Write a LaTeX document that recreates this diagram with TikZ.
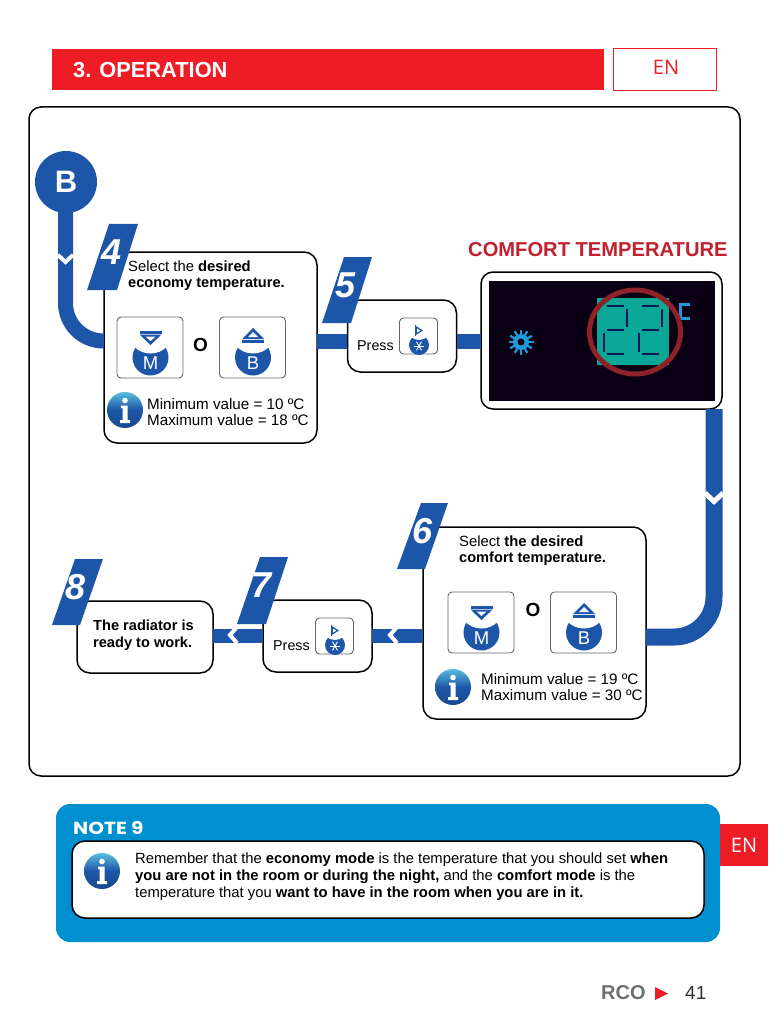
\documentclass[tikz,border=0pt]{standalone}
\usepackage{fontspec}
\setmainfont{Liberation Sans}
\newfontfamily\enfont{Open Sans}
\newfontfamily\notefont[FakeStretch=1.15]{Poppins}
\definecolor{flowblue}{HTML}{1D56A8}
\definecolor{hdrred}{HTML}{EE1C25}
\definecolor{noteblue}{HTML}{0090D0}
\definecolor{comfred}{HTML}{C1202E}
\definecolor{ringred}{HTML}{8E2229}
\definecolor{lcdteal}{HTML}{0AA696}
\definecolor{lcdcyan}{HTML}{1E9AD6}
\definecolor{lcdblack}{HTML}{0A0014}
\definecolor{seg}{HTML}{14145A}
\definecolor{rcogray}{HTML}{6D6E71}
\tikzset{
  x=1pt,y=-1pt,
  panel/.style={draw=black,line width=1.5pt,fill=white,rounded corners=13pt,inner sep=0pt,outer sep=0pt},
  btn/.style={draw=black!60,line width=0.9pt,fill=white,rounded corners=4pt,inner sep=0pt,outer sep=0pt},
  flow/.style={draw=flowblue,line width=15pt},
  chev/.style={draw=white,line width=4pt,miter limit=10},
  txt/.style={anchor=base west,inner sep=0pt,font=\fontsize{14.8}{17}\selectfont},
  valtxt/.style={anchor=base west,inner sep=0pt,font=\fontsize{15.2}{17}\selectfont},
  boldtxt/.style={anchor=base west,inner sep=0pt,font=\fontsize{14.6}{17}\selectfont\bfseries},
  numtag/.style={fill=flowblue},
  numtxt/.style={text=white,inner sep=0pt,font=\fontsize{36}{36}\selectfont\bfseries\itshape},
  key/.style={text=white,inner sep=0pt,font=\fontsize{18.5}{18.5}\selectfont},
  orfont/.style={inner sep=0pt,font=\fontsize{19}{19}\selectfont\bfseries},
  seg2/.style={draw=seg,line width=2.2pt},
}
% #1 name, #2 x, #3 y
\newcommand\downkey[3]{\begin{scope}[shift={(#2,#3)}]
  \node[btn,minimum width=66pt,minimum height=61pt] (#1) at (0,0) {};
  \fill[flowblue] (0.5,10) circle (18);
  \begin{scope}\clip (0.5,10) circle (18.5); \fill[white] (0.5,-17) circle (23); \end{scope}
  \fill[flowblue] (-10.5,-16.5) rectangle (11.5,-14);
  \fill[flowblue] (-10.5,-13) -- (11.5,-13) -- (0.5,-2.5) -- cycle;
  \fill[white] (-4.5,-11) -- (5.5,-11) -- (0.5,-6.5) -- cycle;
  \node[key] (#1t) at (0.5,16) {M};
\end{scope}}
\newcommand\upkey[3]{\begin{scope}[shift={(#2,#3)}]
  \node[btn,minimum width=66pt,minimum height=61pt] (#1) at (0,0) {};
  \fill[flowblue] (0.5,10) circle (18);
  \begin{scope}\clip (0.5,10) circle (18.5); \fill[white] (0.5,-17) circle (23); \end{scope}
  \fill[flowblue] (-10.5,-7.5) rectangle (11.5,-5);
  \fill[flowblue] (-10.5,-8.5) -- (11.5,-8.5) -- (0.5,-19.5) -- cycle;
  \fill[white] (-4.5,-10.5) -- (5.5,-10.5) -- (0.5,-15.5) -- cycle;
  \node[key] (#1t) at (0.5,16) {B};
\end{scope}}
\newcommand\snowkey[3]{\begin{scope}[shift={(#2,#3)}]
  \node[btn,minimum width=38pt,minimum height=36pt] (#1) at (0,0) {};
  \fill[flowblue] (0.5,9) circle (10);
  \begin{scope}\clip (0.5,9) circle (10.5); \fill[white] (0.5,-8) circle (12); \end{scope}
  \fill[flowblue] (-4,-11) rectangle (-2.6,0);
  \fill[flowblue] (-2.6,-10) -- (4.5,-5.5) -- (-2.6,-1) -- cycle;
  \fill[white] (-1.4,-7.5) -- (1.8,-5.5) -- (-1.4,-3.5) -- cycle;
  \foreach \a in {0,60,120} \draw[white,line width=0.9pt] (0.5,10) ++(\a:5) -- ++(\a+180:10);
\end{scope}}
\newcommand\infoicon[2]{\begin{scope}[shift={(#1,#2)}]
  \shade[top color=flowblue!55!cyan!70!white,bottom color=flowblue!85!black,middle color=flowblue] (0,0) circle (18);
  \fill[white] (0,-9.5) circle (2.8);
  \fill[white] (-4,-4.5) -- (2.5,-4.5) -- (2.5,10) -- (5,10) -- (5,13) -- (-5,13) -- (-5,10) -- (-2.5,10) -- (-2.5,-2) -- (-4,-2) -- cycle;
\end{scope}}
\begin{document}
\begin{tikzpicture}
\useasboundingbox (0,0) rectangle (768,1024);
\fill[white] (0,0) rectangle (768,1024);

% header
\node[fill=hdrred,minimum width=552pt,minimum height=41pt,inner sep=0pt] (hdr) at (328,69.5) {};
\node[anchor=base west,inner sep=0pt,text=white,font=\fontsize{21.8}{22}\selectfont\bfseries] (hdrt) at (73,77.5) {3. OPERATION};
\node[draw=hdrred,line width=1pt,fill=white,minimum width=103pt,minimum height=42pt,inner sep=0pt] (enbox) at (664.5,70) {};
\node[text=hdrred,inner sep=0pt,font=\enfont\fontsize{20}{20}\selectfont] (ent) at (666,67) {EN};

% frame
\node[draw=black,line width=1.5pt,fill=white,rounded corners=12pt,minimum width=711pt,minimum height=669pt,inner sep=0pt] (frame) at (384.5,441.5) {};

% nodes
\node[circle,fill=flowblue,minimum size=62pt,inner sep=0pt,text=white,font=\fontsize{31}{31}\selectfont\bfseries] (B) at (66,182) {B};
\node[panel,minimum width=213pt,minimum height=191pt] (b4) at (210.5,347.5) {};
\node[panel,minimum width=109pt,minimum height=72pt] (b5) at (402,336) {};
\node[panel,minimum width=241pt,minimum height=137pt,rounded corners=12pt] (disp) at (601.5,340.5) {};
\node[panel,minimum width=223pt,minimum height=192pt] (b6) at (534.5,623) {};
\node[panel,minimum width=109pt,minimum height=72pt] (b7) at (317.5,636) {};
\node[panel,minimum width=136pt,minimum height=72pt] (b8) at (145,637) {};

% connectors
\coordinate (in4) at (104,341);
\coordinate (out5) at (347,341);
\coordinate (in6) at (646,637);
\coordinate (corner6) at (714,637);
\coordinate (dispout) at (714,409);
\draw[flow,rounded corners=38pt] (B.south) ++(-0.5,-3) |- (in4);
\draw[flow] (b4.east |- in4) -- (out5);
\draw[flow] (b5.east |- in4) -- (disp.west |- in4);
\draw[flow,line width=17pt,rounded corners=40pt] (dispout) -- (corner6) -- (in6);
\draw[flow,line width=14pt] (b6.west |- b7) -- (b7.east);
\draw[flow,line width=14pt] (b7.west) -- (b8.east |- b7);
\draw[chev] (58,255) -- (65.5,262) -- (73,255);
\draw[chev,line width=5pt] (705,493) -- (714,501.5) -- (723,493);
\draw[chev] (397,627) -- (390,635) -- (397,643);
\draw[chev] (237,627) -- (230,635) -- (237,643);

% number tags
\fill[numtag] (109,224) -- (138,224) -- (117,290) -- (87,290) -- cycle;
\node[numtxt] (n4) at (112,252) {4};
\fill[numtag] (344,257) -- (372,257) -- (351,323) -- (322,323) -- cycle;
\node[numtxt] (n5) at (346,285) {5};
\fill[numtag] (421,503) -- (448,503) -- (425,569) -- (397,569) -- cycle;
\node[numtxt] (n6) at (423,531) {6};
\fill[numtag] (260,557) -- (288,557) -- (266,624) -- (237,624) -- cycle;
\node[numtxt] (n7) at (262,585) {7};
\fill[numtag] (75,559) -- (103,559) -- (80,625) -- (52,625) -- cycle;
\node[numtxt] (n8) at (76,587) {8};

% box 4
\node[txt] (t4a) at (128,271) {Select the \textbf{desired}};
\node[boldtxt] (t4b) at (128,287) {economy temperature.};
\downkey{k4m}{150}{347.5}
\upkey{k4b}{252.5}{347.5}
\node[orfont] (o4) at (200.5,345) {O};
\infoicon{125}{410}
\node[valtxt] (t4c) at (147,409) {Minimum value = 10 ºC};
\node[valtxt] (t4d) at (147,425) {Maximum value = 18 ºC};

% box 5
\node[anchor=base west,inner sep=0pt,font=\fontsize{14.3}{17}\selectfont] (t5) at (357,350) {Press};
\snowkey{k5}{418.5}{336}

% display
\fill[lcdblack] (489,281) rectangle (715,401);
\fill[lcdteal] (597,298) rectangle (669,365);
\foreach \d in {0,35}{
  \draw[seg2] (607+\d,306) -- (624+\d,306);
  \draw[seg2] (627+\d,309) -- (627+\d,327);
  \draw[seg2] (607+\d,330) -- (624+\d,330);
  \draw[seg2] (604+\d,333) -- (604+\d,352);
  \draw[seg2] (607+\d,354) -- (624+\d,354);
}
\draw[lcdcyan,line width=3pt] (690,304.5) -- (680,304.5) -- (680,318) -- (690,318);
\draw[ringred,line width=5pt] (635,332) ellipse (45.5 and 42);
\fill[lcdcyan] (521,342) circle (8);
\fill[lcdblack] (521,342) circle (3.5);
\foreach \a in {0,30,...,330} \draw[lcdcyan,line width=2.2pt] (521,342) ++(\a:6) -- ++(\a:6.5);
\node[anchor=base west,inner sep=0pt,text=comfred,font=\fontsize{20.15}{20}\selectfont\bfseries] (ct) at (468,256) {COMFORT TEMPERATURE};

% box 6
\node[txt] (t6a) at (459,546) {Select \textbf{the desired}};
\node[boldtxt] (t6b) at (459,562) {comfort temperature.};
\downkey{k6m}{481}{622.5}
\upkey{k6b}{583.5}{622.5}
\node[orfont] (o6) at (533,610) {O};
\infoicon{453}{687}
\node[valtxt] (t6c) at (481,684) {Minimum value = 19 ºC};
\node[valtxt] (t6d) at (481,700) {Maximum value = 30 ºC};

% box 7, 8
\node[anchor=base west,inner sep=0pt,font=\fontsize{14.3}{17}\selectfont] (t7) at (273,650) {Press};
\snowkey{k7}{334.5}{636}
\node[boldtxt] (t8a) at (93,630) {The radiator is};
\node[boldtxt] (t8b) at (93,647) {ready to work.};

% note
\node[fill=noteblue,rounded corners=14pt,minimum width=664pt,minimum height=138pt,inner sep=0pt] (note) at (388,873) {};
\node[anchor=base west,inner sep=0pt,text=white,font=\notefont\fontsize{17.5}{17.5}\selectfont\bfseries] (notet) at (73,834) {NOTE 9};
\node[panel,minimum width=632pt,minimum height=77pt] (notein) at (388,879.5) {};
\infoicon{102}{871}
\node[txt] (n1) at (135,863) {Remember that the \textbf{economy mode} is the temperature that you should set \textbf{when}};
\node[txt] (n2) at (135,880) {\textbf{you are not in the room or during the night,} and the \textbf{comfort mode} is the};
\node[txt] (n3) at (135,897) {temperature that you \textbf{want to have in the room when you are in it.}};

% side tab and footer
\node[fill=hdrred,minimum width=48pt,minimum height=42pt,inner sep=0pt,text=white,font=\enfont\fontsize{20}{20}\selectfont] (entab) at (744,845) {EN};
\node[anchor=base west,inner sep=0pt,text=rcogray,font=\fontsize{20}{20}\selectfont\bfseries] (rco) at (601,999) {RCO};
\fill[hdrred] (655,987) -- (668,993.5) -- (655,1000) -- cycle;
\node[anchor=base west,inner sep=0pt,text=black!80,font=\fontsize{19}{19}\selectfont] (pg) at (685,999) {41};
\end{tikzpicture}
\end{document}
